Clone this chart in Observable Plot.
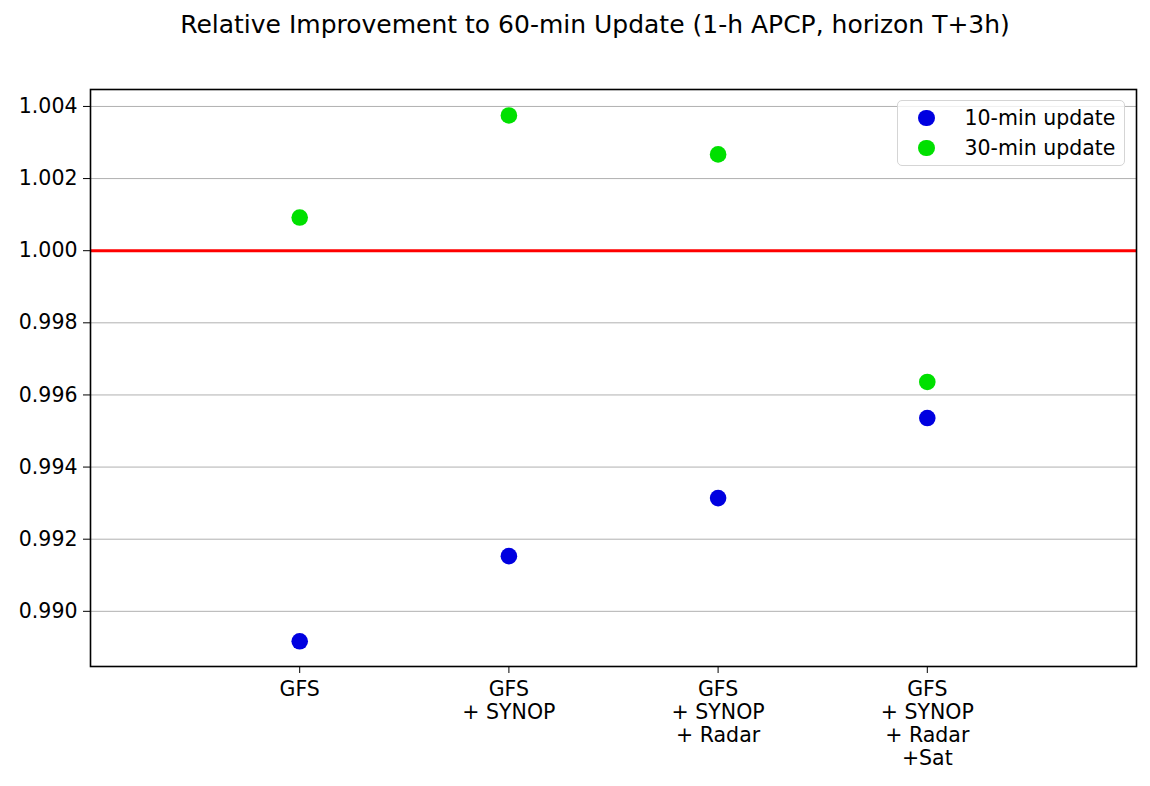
<!DOCTYPE html>
<html>
<head>
<meta charset="utf-8">
<script src="https://cdn.jsdelivr.net/npm/d3@7"></script>
<script src="https://cdn.jsdelivr.net/npm/@observablehq/plot@0.6"></script>
<style>
  html, body { margin: 0; padding: 0; background: #fff; }
  body { width: 1150px; height: 786px; position: relative; font-family: "DejaVu Sans", sans-serif; overflow: hidden; }
  #title { height: 50px; line-height: 50px; text-align: center; font-size: 25px; color: #000; padding-left: 40px; }
  #legend { position: absolute; left: 897px; top: 100px; width: 228px; height: 66px;
    border: 1.5px solid #d5d5d5; border-radius: 5px; background: rgba(255,255,255,0.8);
    font-size: 20.5px; color: #000; box-sizing: border-box; }
  .row { position: absolute; left: 0; height: 30px; display: flex; align-items: center; }
  .sw { width: 16.5px; height: 16.5px; border-radius: 50%; margin-left: 20px; margin-right: 30px; }
</style>
</head>
<body>
<div id="title">Relative Improvement to 60-min Update (1-h APCP, horizon T+3h)</div>
<div id="chart"></div>
<div id="legend"></div>
<script>
const categories = ["GFS", "GFS\n+ SYNOP", "GFS\n+ SYNOP\n+ Radar", "GFS\n+ SYNOP\n+ Radar\n+Sat"];
const update10 = [0.98917, 0.99153, 0.99314, 0.99536];
const update30 = [1.00092, 1.00375, 1.00267, 0.99636];
const seriesNames = ["10-min update", "30-min update"];
const seriesColors = ["#0000e0", "#00e000"];
const yTicks = [0.990, 0.992, 0.994, 0.996, 0.998, 1.000, 1.002, 1.004];
const reference = 1.0;

const rows = [];
categories.forEach((c, i) => {
  rows.push({i, cat: c, value: update10[i], series: seriesNames[0]});
  rows.push({i, cat: c, value: update30[i], series: seriesNames[1]});
});

const chart = Plot.plot({
  width: 1150,
  height: 736,
  marginLeft: 90,
  marginRight: 14,
  marginTop: 39,
  marginBottom: 120,
  style: {fontFamily: "DejaVu Sans, sans-serif", fontSize: "20.5px", color: "#000", background: "#fff"},
  x: {domain: [-1, 4], ticks: [0, 1, 2, 3]},
  y: {domain: [0.98847, 1.00447]},
  color: {domain: seriesNames, range: seriesColors},
  marks: [
    Plot.gridY(yTicks, {stroke: "#b0b0b0", strokeOpacity: 1, strokeWidth: 1}),
    Plot.ruleY([reference], {stroke: "#ff0000", strokeWidth: 3}),
    Plot.dot(rows, {x: "i", y: "value", fill: "series", r: 8.3, stroke: "none"}),
    Plot.frame({stroke: "#000", strokeWidth: 1.6}),
    Plot.axisX([0, 1, 2, 3], {tickFormat: d => categories[d], tickSize: 7, tickPadding: 6, tickWidth: 1.6, stroke: "#000", lineHeight: 1.12, fontSize: 20.5, label: null}),
    Plot.axisY(yTicks, {tickFormat: d3.format(".3f"), tickSize: 7, tickPadding: 6, stroke: "#000", tickWidth: 1.6, fontSize: 20.5, label: null})
  ]
});
document.getElementById("chart").appendChild(chart);

const legend = document.getElementById("legend");
seriesNames.forEach((name, k) => {
  const row = document.createElement("div");
  row.className = "row";
  row.style.top = (2 + k * 30) + "px";
  const sw = document.createElement("div");
  sw.className = "sw";
  sw.style.background = seriesColors[k];
  const t = document.createElement("span");
  t.textContent = name;
  row.appendChild(sw);
  row.appendChild(t);
  legend.appendChild(row);
});
</script>
</body>
</html>
